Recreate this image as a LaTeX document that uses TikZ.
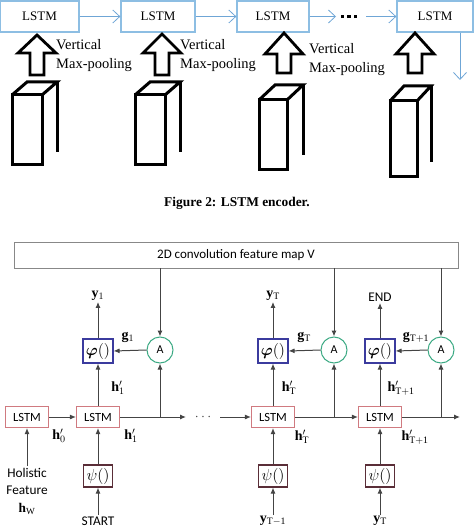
\documentclass[tikz,border=0pt]{standalone}
\usepackage{fix-cm}
\usepackage{bm}
\usepackage{fontspec}
\setmainfont{Liberation Serif}
\newfontfamily\calfont{Carlito}
\usetikzlibrary{arrows.meta,calc}
\definecolor{topblue}{HTML}{8DBEE3}
\definecolor{toparrow}{HTML}{6FA6D6}
\definecolor{lstmred}{HTML}{D07A80}
\definecolor{phiblue}{HTML}{3B3B9E}
\definecolor{agreen}{HTML}{3DAA84}
\definecolor{psibrown}{HTML}{5A2E38}
\definecolor{arrgray}{HTML}{444444}
\definecolor{fmgray}{HTML}{888888}
\newcommand\fs[1]{\fontsize{#1}{#1}\selectfont}
\newcommand\drawprism[6]{%
  \draw[prismline] (#1,#3) rectangle (#2,#4);
  \draw[prismline] (#1,#3) -- ({#1+#5},{#3-#6}) -- ({#2+#5},{#3-#6}) -- (#2,#3);
  \draw[prismline] ({#2+#5},{#3-#6}) -- ({#2+#5},{#4-#6});
}
\newcommand\blockarrow[4]{%
  \draw[blockline] ({#1-7},#4) -- ({#1-7},#3) -- ({#1-19},#3) -- (#1,#2) -- ({#1+19},#3) -- ({#1+7},#3) -- ({#1+7},#4) -- cycle;
}
\begin{document}
\begin{tikzpicture}[x=1pt,y=-1pt,
  topbox/.style={draw=topblue, line width=1.3pt, minimum height=31pt, inner sep=0pt, font=\fs{13}},
  toparr/.style={draw=toparrow, line width=0.8pt, -{Straight Barb[length=7pt,width=13pt]}},
  prismline/.style={draw=black, line width=3pt, line join=miter},
  blockline/.style={draw=black, line width=2.8pt, line join=miter},
  vlabel/.style={align=left, anchor=north west, inner sep=0pt, font=\fontsize{14.5}{19}\selectfont},
  garr/.style={draw=arrgray, line width=1pt, -{Latex[length=6pt,width=5pt]}},
  anode/.style={circle, draw=agreen, line width=1pt, minimum size=26pt, inner sep=0pt, font=\calfont\fs{12}},
  phinode/.style={draw=phiblue, line width=1.1pt, minimum width=30pt, minimum height=24pt, inner sep=0pt, font=\fs{16}},
  lstmnode/.style={draw=lstmred, line width=1.1pt, minimum width=43pt, minimum height=21pt, inner sep=0pt, font=\calfont\fs{12.5}},
  psinode/.style={draw=psibrown, line width=1.1pt, minimum width=29pt, minimum height=22pt, inner sep=0pt, font=\fs{16}},
  mlabel/.style={inner sep=1pt, font=\fs{14}},
  clabel/.style={inner sep=1.5pt, font=\calfont\fs{13.3}}
]
\useasboundingbox (0,0) rectangle (474,529);

% ---------- top: LSTM encoder ----------
\node[topbox, minimum width=79pt] (e1) at (39.5,16.5) {LSTM};
\node[topbox, minimum width=74pt] (e2) at (158,16.5) {LSTM};
\node[topbox, minimum width=72pt] (e3) at (273,16.5) {LSTM};
\node[topbox, minimum width=76pt] (e4) at (435,16.5) {LSTM};
\node[inner sep=0pt] (tdots) at (349,16.5) {\rule{3.5pt}{3.5pt}\hspace{3pt}\rule{3.5pt}{3.5pt}\hspace{3pt}\rule{3.5pt}{3.5pt}};
\coordinate (tdotsa) at (336,16.5);
\coordinate (tdotsb) at (366,16.5);
\coordinate (tend) at (460,80);
\draw[toparr] (e1.east) -- (e2.west);
\draw[toparr] (e2.east) -- (e3.west);
\draw[toparr] (e3.east) -- (tdotsa);
\draw[toparr] (tdotsb) -- (e4.west);
\draw[toparr] (e4.south -| tend) -- (tend);

\blockarrow{37}{35}{53}{75}
\blockarrow{162}{34}{53}{75}
\blockarrow{284}{33}{54}{73}
\blockarrow{415}{33}{54}{73}

\node[vlabel] (v1) at (56,39) {Vertical\\Max-pooling};
\node[vlabel] (v2) at (180,39) {Vertical\\Max-pooling};
\node[vlabel] (v3) at (309,43) {Vertical\\Max-pooling};

\drawprism{12}{42}{95}{165}{15}{13}
\drawprism{135}{165}{95}{165}{15}{13}
\drawprism{259}{287}{100}{170}{16}{15}
\drawprism{390}{417}{101}{177}{14}{15}

\node[font=\bfseries\fs{13.4}] (cap) at (237,203) {Figure 2: LSTM encoder.};

% ---------- bottom: decoder ----------
\node[draw=fmgray, line width=0.9pt, minimum width=444pt, minimum height=26pt, inner sep=0pt, font=\calfont\fs{13}] (fm) at (236,255) {2D convolution feature map V};

\node[anode] (A1) at (160,350) {A};
\node[anode] (AT) at (334,350) {A};
\node[anode] (AT1) at (441,350) {A};

\node[phinode] (p1) at (98,351) {$\bm{\varphi}()$};
\node[phinode] (pT) at (273,351) {$\bm{\varphi}()$};
\node[phinode] (pT1) at (380,351) {$\bm{\varphi}()$};

\node[lstmnode] (l0) at (27,417) {LSTM};
\node[lstmnode] (l1) at (98,417) {LSTM};
\node[lstmnode] (lT) at (273,417) {LSTM};
\node[lstmnode] (lT1) at (380,417) {LSTM};

\node[psinode] (s1) at (98,476) {$\psi()$};
\node[psinode] (sT) at (273,476) {$\psi()$};
\node[psinode] (sT1) at (380,476) {$\psi()$};

% labels
\node[mlabel] (y1) at (98,296) {$\mathbf{y}_1$};
\node[mlabel] (yT) at (273,296) {$\mathbf{y}_{\mathrm{T}}$};
\node[clabel] (END) at (380,297) {END};

\node[mlabel] (g1) at (128,337) {$\mathbf{g}_1$};
\node[mlabel] (gT) at (304,337) {$\mathbf{g}_{\mathrm{T}}$};
\node[mlabel] (gT1) at (416,337) {$\mathbf{g}_{\mathrm{T+1}}$};

\node[mlabel] (ha1) at (118,388) {$\mathbf{h}'_1$};
\node[mlabel] (haT) at (289,388) {$\mathbf{h}'_{\mathrm{T}}$};
\node[mlabel] (haT1) at (401,388) {$\mathbf{h}'_{\mathrm{T+1}}$};

\node[mlabel] (hb0) at (59,436) {$\mathbf{h}'_0$};
\node[mlabel] (hb1) at (131,436) {$\mathbf{h}'_1$};
\node[mlabel] (hbT) at (302,437) {$\mathbf{h}'_{\mathrm{T}}$};
\node[mlabel] (hbT1) at (415,437) {$\mathbf{h}'_{\mathrm{T+1}}$};

\node[clabel, align=center, font=\calfont\fontsize{13.3}{17}\selectfont] (hol) at (27,491) {Holistic\\Feature\\[1pt]$\mathbf{h}_{\mathrm{W}}$};
\node[clabel] (start) at (98,521) {START};
\node[mlabel] (ysT1) at (273,521) {$\mathbf{y}_{\mathrm{T-1}}$};
\node[mlabel] (ysT) at (380,521) {$\mathbf{y}_{\mathrm{T}}$};

% feature map to attention
\draw[garr] (A1 |- fm.south) -- (A1.north);
\draw[garr] (AT |- fm.south) -- (AT.north);
\draw[garr] (AT1 |- fm.south) -- (AT1.north);

% attention to phi
\draw[garr] (A1.west) -- (p1.east);
\draw[garr] (AT.west) -- (pT.east);
\draw[garr] (AT1.west) -- (pT1.east);

% phi to outputs
\draw[garr] (p1.north) -- (y1.south);
\draw[garr] (pT.north) -- (yT.south);
\draw[garr] (pT1.north) -- (END.south);

% LSTM to phi
\draw[garr] (l1.north) -- (p1.south);
\draw[garr] (lT.north) -- (pT.south);
\draw[garr] (lT1.north) -- (pT1.south);

% LSTM chain
\coordinate (da) at (186,417);
\coordinate (db) at (220,417);
\coordinate (rowend) at (460,417);
\node[inner sep=0pt, text=arrgray, font=\fs{14}] (bdots) at (203,417) {$\cdots$};
\draw[garr] (l0.east) -- (l1.west);
\draw[garr] (l1.east) -- (da);
\draw[garr] (db) -- (lT.west);
\draw[garr] (lT.east) -- (lT1.west);
\draw[garr] (lT1.east) -- (rowend);

% branches to attention
\draw[garr] (A1 |- l1.east) -- (A1.south);
\draw[garr] (AT |- lT.east) -- (AT.south);
\draw[garr] (AT1 |- lT1.east) -- (AT1.south);

% psi to LSTM
\draw[garr] (s1.north) -- (l1.south);
\draw[garr] (sT.north) -- (lT.south);
\draw[garr] (sT1.north) -- (lT1.south);

% inputs
\draw[garr] (hol.north) -- (l0.south);
\draw[garr] (start.north) -- (s1.south);
\draw[garr] (ysT1.north) -- (sT.south);
\draw[garr] (ysT.north) -- (sT1.south);
\end{tikzpicture}
\end{document}
